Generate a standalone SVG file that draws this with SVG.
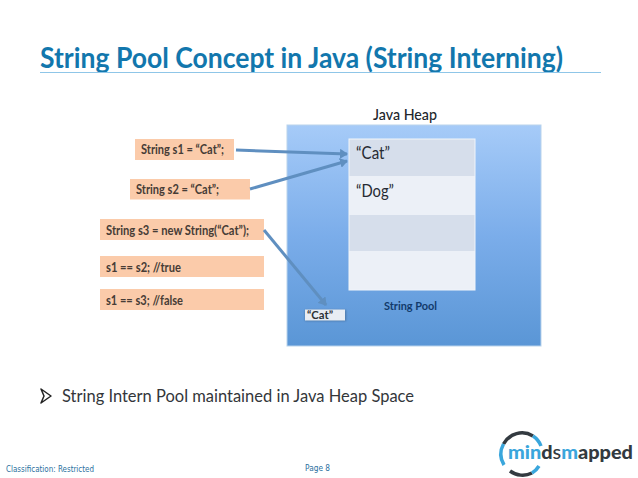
<svg xmlns="http://www.w3.org/2000/svg" width="638" height="478" viewBox="0 0 638 478">
<style>
text{font-family:Lato,"Open Sans","Liberation Sans",sans-serif}
.code{font-size:12.500px;fill:#463c36;font-weight:700}
.box{fill:#fbcbaa}
.conn{fill:none;stroke:#5f8fc0;stroke-width:3}
.pool{font-size:17.500px;fill:#262b33}
.foot{font-family:"DejaVu Sans",sans-serif;font-size:8px;fill:#2a6f9e}
</style>
<defs>
<linearGradient id="heap" x1="0" y1="0" x2="0" y2="1"><stop offset="0" stop-color="#a6cbf8"/><stop offset="0.5" stop-color="#7badea"/><stop offset="1" stop-color="#5a96d6"/></linearGradient>
<marker id="arr" markerWidth="9" markerHeight="10" refX="7" refY="5" orient="auto" markerUnits="userSpaceOnUse"><path d="M0 0L8 5L0 10z" fill="#5f8fc0"/></marker>
<filter id="blur" x="-20%" y="-40%" width="140%" height="180%"><feGaussianBlur stdDeviation="1"/></filter>
</defs>
<rect width="638" height="478" fill="#ffffff"/>
<g id="title"><text x="40" y="68" font-size="28.500" font-weight="700" fill="#1277ad" textLength="523" lengthAdjust="spacingAndGlyphs">String Pool Concept in Java (String Interning)</text><line x1="40" y1="72.500" x2="601" y2="72.500" stroke="#8fc6e8" stroke-width="1"/></g>
<g id="heap-label"><text x="373" y="120" font-size="15" font-weight="500" fill="#23262b" textLength="64" lengthAdjust="spacingAndGlyphs">Java Heap</text></g>
<g id="java-heap"><rect x="287" y="125" width="254" height="221" fill="url(#heap)" stroke="#b9d3ec" stroke-width="1"/></g>
<g id="string-pool">
<rect x="349" y="139" width="126" height="37" fill="#d6deeb"/>
<rect x="349" y="176" width="126" height="39" fill="#ecf0f7"/>
<rect x="349" y="215" width="126" height="36" fill="#d6deeb"/>
<rect x="349" y="251" width="126" height="39" fill="#ecf0f7"/>
<rect x="349" y="139" width="126" height="151" fill="none" stroke="#f1f5fa" stroke-width="1"/>
<text x="356" y="159" class="pool" textLength="34" lengthAdjust="spacingAndGlyphs">“Cat”</text>
<text x="356" y="197" class="pool" textLength="38" lengthAdjust="spacingAndGlyphs">“Dog”</text>
<text x="384" y="310" font-size="12" font-weight="700" fill="#123a6b" textLength="53" lengthAdjust="spacingAndGlyphs">String Pool</text>
</g>
<g id="s1"><rect class="box" x="135" y="139" width="99" height="21"/><text class="code" x="141" y="154" textLength="83" lengthAdjust="spacingAndGlyphs">String s1 = “Cat”;</text></g>
<g id="s2"><rect class="box" x="130" y="179" width="120" height="20.500"/><text class="code" x="136" y="194" textLength="83" lengthAdjust="spacingAndGlyphs">String s2 = “Cat”;</text></g>
<g id="s3"><rect class="box" x="100" y="219" width="164" height="21"/><text class="code" x="106" y="235" textLength="143" lengthAdjust="spacingAndGlyphs">String s3 = new String(“Cat”);</text></g>
<g id="eq1"><rect class="box" x="100" y="256" width="164" height="21"/><text class="code" x="106" y="272" textLength="75" lengthAdjust="spacingAndGlyphs">s1 == s2; //true</text></g>
<g id="eq2"><rect class="box" x="100" y="289" width="164" height="21"/><text class="code" x="106" y="305" textLength="77" lengthAdjust="spacingAndGlyphs">s1 == s3; //false</text></g>
<g id="heap-cat"><rect x="305" y="310" width="41" height="11" fill="#000" opacity=".25" filter="url(#blur)"/><rect x="305" y="309.500" width="40" height="11" fill="#e8edf4"/><text x="307" y="319" font-size="11" font-weight="700" fill="#2c3036" textLength="26" lengthAdjust="spacingAndGlyphs">“Cat”</text></g>
<g id="connectors">
<line class="conn" x1="236" y1="150" x2="347" y2="154" marker-end="url(#arr)"/>
<line class="conn" x1="250" y1="189" x2="347" y2="161" marker-end="url(#arr)"/>
<line class="conn" x1="264" y1="230" x2="326" y2="305" marker-end="url(#arr)"/>
</g>
<g id="bullet"><path d="M41 389L51 396L41 403L44 396z" fill="#fff" stroke="#222" stroke-width="1.500" stroke-linejoin="round"/><text x="62" y="402" font-size="16.500" fill="#33363a" textLength="352" lengthAdjust="spacingAndGlyphs">String Intern Pool maintained in Java Heap Space</text></g>
<g id="footer"><text class="foot" x="6" y="472" textLength="88" lengthAdjust="spacingAndGlyphs">Classification: Restricted</text><text class="foot" x="305" y="471" textLength="25" lengthAdjust="spacingAndGlyphs">Page 8</text></g>
<g id="logo">
<path d="M503.500 444A21 21 0 0 1 533 436" fill="none" stroke="#333a40" stroke-width="3.500"/>
<path d="M533 436A21 21 0 0 1 541 446" fill="none" stroke="#3aa6dc" stroke-width="3.500"/>
<path d="M504 465A21 21 0 0 1 503.500 444" fill="none" stroke="#3aa6dc" stroke-width="3.500"/>
<path d="M510 471A21 21 0 0 0 532 473" fill="none" stroke="#333a40" stroke-width="3.500"/>
<path d="M532 473A21 21 0 0 0 539 466" fill="none" stroke="#3aa6dc" stroke-width="3.500"/>
<text x="508" y="459" font-size="19" font-weight="900" fill="#3aa6dc" textLength="125" lengthAdjust="spacingAndGlyphs">min<tspan fill="#333a40">d</tspan><tspan fill="#333a40" font-weight="500">s</tspan>m<tspan fill="#333a40">apped</tspan></text>
</g>
</svg>
